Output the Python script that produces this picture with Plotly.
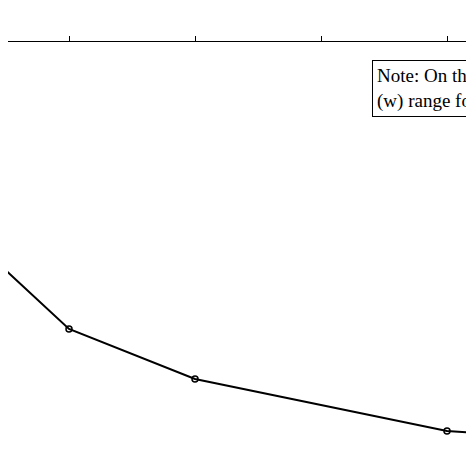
import plotly.graph_objects as go

x_vals = [0, 10, 20, 40, 50]
y_vals = [2.62, 1.45, 0.95, 0.43, 0.34]
tick_vals = [10, 20, 30, 40]

x0 = 10 - 61/12.6
fig = go.Figure()
fig.add_trace(go.Scatter(x=x_vals, y=y_vals, mode="lines+markers",
    line=dict(color="black", width=2),
    marker=dict(symbol="circle-open", size=6, color="black", line=dict(width=1.5)),
    cliponaxis=True, showlegend=False))
fig.update_layout(
    width=474, height=474, margin=dict(l=0, r=0, t=34, b=0),
    plot_bgcolor="white", paper_bgcolor="white",
    xaxis=dict(range=[x0, x0 + 474/12.6], side="top", tickvals=tick_vals,
               showticklabels=False, ticks="outside", ticklen=5, tickcolor="black",
               showline=True, linecolor="black", linewidth=1, showgrid=False, zeroline=False),
    yaxis=dict(range=[-0.08, 4.32], showticklabels=False, showgrid=False, zeroline=False,
               showline=False),
    annotations=[dict(xref="paper", yref="paper", x=364/474, y=1 - (52-34)/440,
        xanchor="left", yanchor="top", align="left", showarrow=False,
        text="Note: On the<br>(w) range fo",
        font=dict(family="Liberation Serif", size=19, color="black"),
        bordercolor="black", borderwidth=1, borderpad=4, bgcolor="white")]
)
fig.write_html("out.html")
